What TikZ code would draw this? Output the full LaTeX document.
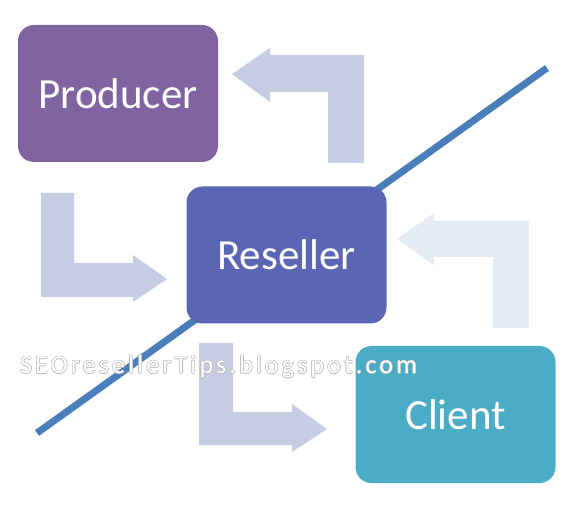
\documentclass[tikz,border=0pt]{standalone}
\usepackage{fontspec}
\setmainfont{Carlito}
\newfontfamily\markfont[LetterSpace=12]{Carlito}
\usepackage{contour}
\contourlength{0.45pt}
\usepackage{tikz}
\usetikzlibrary{positioning}

\definecolor{prodcol}{HTML}{8064A2}
\definecolor{rescol}{HTML}{5A66B4}
\definecolor{clicol}{HTML}{4BACC6}
\definecolor{linecol}{HTML}{4A7EBB}
\definecolor{arrcol}{HTML}{C4CDE1}
\definecolor{palecol}{HTML}{E6EDF2}

\tikzset{
  box/.style={rounded corners=16pt, minimum width=200pt, minimum height=137pt,
    text=white, font=\fontsize{43}{50}\selectfont, inner sep=0pt},
}

\begin{document}
\begin{tikzpicture}[x=1pt,y=-1pt]
      \useasboundingbox (0,0) rectangle (587,505);
      % bent arrows
      \fill[arrcol] (364,163) -- (364,55) -- (270,55) -- (270,48) -- (232,74)
            -- (270,102) -- (270,92) -- (328,92) -- (328,163) -- cycle;
      \fill[palecol] (529,328) -- (529,221) -- (434,221) -- (434,213) -- (397,239)
            -- (434,265) -- (434,257) -- (493,257) -- (493,328) -- cycle;
      \fill[arrcol] (41,193) -- (41,297) -- (133,297) -- (133,302) -- (167,279)
            -- (133,255) -- (133,263) -- (74,263) -- (74,193) -- cycle;
      \fill[arrcol] (199,343) -- (199,445) -- (292,445) -- (292,452) -- (327,429)
            -- (292,404) -- (292,412) -- (233,412) -- (233,343) -- cycle;
      % diagonal
      \coordinate (lo) at (37,433);
      \coordinate (hi) at (547,68);
      \draw[linecol,line width=7pt] (lo) -- (hi);
      % boxes
      \node[box,fill=prodcol] (producer) at (118,93.5) {Producer};
      \node[box,fill=rescol] (reseller) at (286.5,255) {Reseller};
      \node[box,fill=clicol] (client) at (455.5,414.5) {Client};
      % watermark
      \node[inner sep=0pt,anchor=west,text=white,font=\markfont\fontsize{26}{30}\selectfont]
            (mark) at (20,367) {\contour{gray!55}{SEOresellerTips.blogspot.com}};
\end{tikzpicture}
\end{document}
